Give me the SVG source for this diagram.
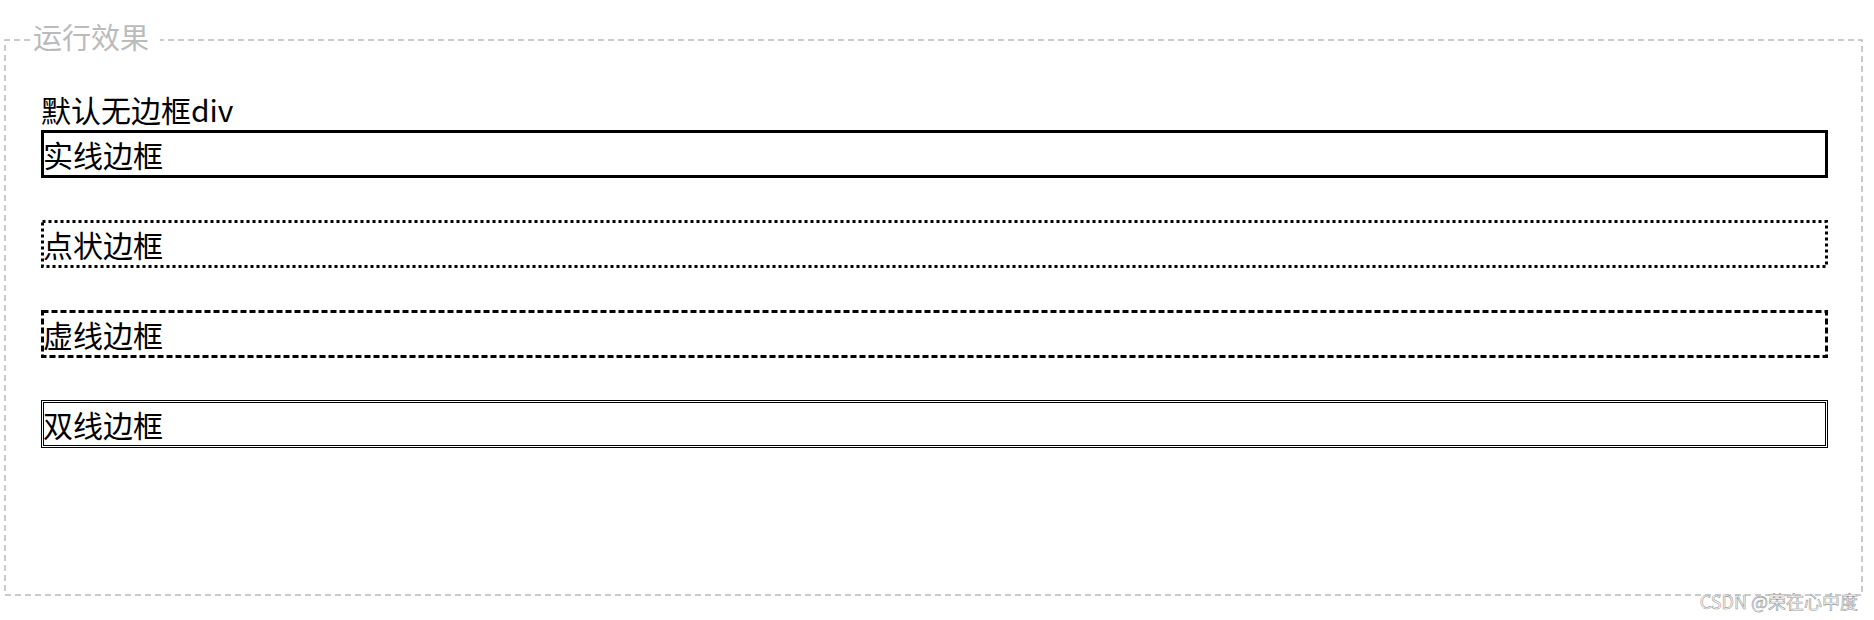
<svg xmlns="http://www.w3.org/2000/svg" width="1874" height="620" viewBox="0 0 1874 620">
<style>
text{font-family:"Noto Sans CJK SC","Liberation Sans",sans-serif;font-size:30px;fill:#000}
.b{fill:none;stroke:#000;stroke-width:3}
</style>
<rect width="1874" height="620" fill="#fff"/>
<g id="frame">
<path d="M30 40 H5 V595 H1862 V40 H160" fill="none" stroke="#bbb" stroke-width="1.5" stroke-dasharray="6,4"/>
<text x="33" y="49" style="fill:#bbb;font-size:29px">运行效果</text>
</g>
<g id="default"><text x="41" y="122">默认无边框div</text></g>
<g id="solid"><rect class="b" x="42.5" y="131.5" width="1784" height="45"/><text x="43" y="167">实线边框</text></g>
<g id="dotted"><rect class="b" x="42.5" y="221.5" width="1784" height="45" stroke-dasharray="3,3"/><text x="43" y="257">点状边框</text></g>
<g id="dashed"><rect class="b" x="42.5" y="311.5" width="1784" height="45" stroke-dasharray="6,3"/><text x="43" y="347">虚线边框</text></g>
<g id="double"><rect x="41.5" y="400.5" width="1786" height="47" fill="none" stroke="#000"/><rect x="43.5" y="402.5" width="1782" height="43" fill="none" stroke="#000"/><text x="43" y="437">双线边框</text></g>
<text x="1858" y="609" text-anchor="end" style="font-size:18px;fill:#fff;stroke:#999;stroke-width:0.6">CSDN @荣在心中度</text>
</svg>
